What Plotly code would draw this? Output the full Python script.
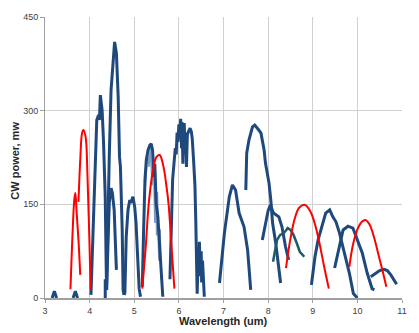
import plotly.graph_objects as go

BLUE = "#1F497D"
RED = "#FF0000"
TEAL = "#1D5B66"
LIGHT = "#7F9CC0"

# --- data (wavelength um, CW power mW) ---
bump1_x = [3.16, 3.21, 3.26]
bump1_y = [0, 11, 0]
bump2_x = [3.63, 3.68, 3.73]
bump2_y = [0, 11, 0]

red1_x = [3.57, 3.60, 3.63, 3.66, 3.68, 3.71, 3.75, 3.79]
red1_y = [14, 72, 125, 160, 168, 136, 93, 37]
red2_x = [3.75, 3.79, 3.83, 3.86, 3.91, 3.95, 3.98, 4.01, 4.02]
red2_y = [154, 221, 264, 269, 258, 200, 130, 50, 13]
red3_x = [5.18, 5.25, 5.33, 5.42, 5.50, 5.57, 5.65, 5.72, 5.77, 5.84, 5.90]
red3_y = [15, 75, 155, 205, 226, 229, 212, 180, 150, 77, 15]
red4_x = [8.40, 8.50, 8.60, 8.70, 8.83, 8.95, 9.05, 9.15, 9.25, 9.36]
red4_y = [48, 95, 128, 145, 149, 138, 118, 88, 52, 15]
red5_x = [9.82, 9.90, 10.00, 10.10, 10.18, 10.27, 10.37, 10.47, 10.56, 10.65]
red5_y = [50, 85, 110, 122, 125, 118, 98, 70, 45, 18]

blueA_x = [4.03, 4.08, 4.13, 4.16, 4.20, 4.22, 4.24, 4.28, 4.31, 4.35, 4.37, 4.38]
blueA_y = [5, 109, 216, 285, 293, 285, 325, 301, 253, 162, 56, 13]
blueA2_x = [4.35, 4.35]
blueA2_y = [0, 30]
blueB_x = [4.38, 4.40, 4.44, 4.48, 4.51, 4.54, 4.56, 4.60, 4.64, 4.67, 4.68, 4.69, 4.73, 4.75, 4.77]
blueB_y = [13, 109, 226, 333, 365, 397, 410, 392, 322, 226, 215, 210, 109, 13, 5]
blueB2_x = [4.38, 4.40, 4.44, 4.48, 4.51, 4.55, 4.59, 4.60]
blueB2_y = [13, 56, 152, 176, 168, 141, 82, 45]
blueC_x = [4.77, 4.79, 4.82, 4.86, 4.90, 4.92, 4.97, 5.01, 5.04, 5.07, 5.11, 5.14]
blueC_y = [5, 8, 98, 141, 157, 152, 162, 146, 120, 66, 15, 2]
blueD_x = [5.18, 5.19, 5.21, 5.24, 5.27, 5.31, 5.35, 5.38, 5.41, 5.44, 5.46, 5.49, 5.53, 5.57, 5.61, 5.64]
blueD_y = [18, 66, 109, 189, 221, 237, 245, 247, 237, 194, 215, 152, 130, 82, 45, 2]
noiseD_x = [5.22, 5.26, 5.30, 5.33, 5.36, 5.40, 5.43, 5.46, 5.48, 5.50, 5.52, 5.55, 5.58, 5.60]
noiseD_y = [150, 200, 230, 210, 240, 180, 230, 120, 200, 100, 170, 60, 110, 30]
blueE_x = [5.80, 5.82, 5.84, 5.86, 5.89, 5.92, 5.94, 5.96, 5.98, 6.00, 6.02, 6.04, 6.06,
           6.07, 6.09, 6.10, 6.12, 6.14, 6.15, 6.17, 6.19, 6.22, 6.25, 6.28, 6.30, 6.33,
           6.36, 6.38, 6.40, 6.41, 6.43, 6.45, 6.46, 6.48, 6.50, 6.51, 6.53, 6.55, 6.57]
blueE_y = [30, 100, 150, 190, 215, 240, 230, 265, 250, 278, 255, 287, 240,
           282, 215, 270, 280, 230, 265, 210, 262, 268, 272, 266, 255, 220,
           180, 120, 60, 7, 60, 35, 90, 40, 75, 25, 60, 20, 2]
blueF_x = [6.91, 7.02, 7.13, 7.20, 7.27, 7.35, 7.46, 7.54, 7.61]
blueF_y = [24, 104, 162, 181, 173, 136, 114, 77, 13]
blueG_x = [7.50, 7.52, 7.57, 7.65, 7.70, 7.74, 7.79, 7.84, 7.91, 7.94, 8.02, 8.06, 8.10, 8.17, 8.22, 8.28]
blueG_y = [173, 232, 253, 274, 277, 274, 269, 264, 237, 216, 184, 157, 120, 88, 61, 24]
blueH_x = [7.87, 7.94, 8.00, 8.05, 8.12, 8.24, 8.31, 8.39, 8.46]
blueH_y = [93, 120, 140, 149, 136, 130, 114, 82, 61]
teal_x = [8.11, 8.20, 8.27, 8.35, 8.40, 8.44, 8.50, 8.57, 8.64, 8.71, 8.81]
teal_y = [58, 93, 101, 104, 108, 112, 109, 101, 88, 74, 66]
blueK_x = [8.97, 9.05, 9.12, 9.20, 9.29, 9.38, 9.45, 9.52, 9.60, 9.71, 9.82, 9.91, 10.00]
blueK_y = [21, 66, 93, 115, 136, 141, 130, 122, 104, 72, 40, 7, 0]
blueL_x = [9.49, 9.56, 9.68, 9.79, 9.90, 10.00, 10.11, 10.22, 10.33, 10.38]
blueL_y = [48, 72, 109, 115, 112, 93, 72, 40, 15, 13]
blueM_x = [10.30, 10.41, 10.50, 10.60, 10.67, 10.75, 10.88]
blueM_y = [34, 40, 44, 46, 44, 37, 22]

x_ticks = [3, 4, 5, 6, 7, 8, 9, 10, 11]
y_ticks = [0, 150, 300, 450]

fig = go.Figure()

def add(x, y, color, width, shape="linear"):
    fig.add_trace(go.Scatter(x=x, y=y, mode="lines", showlegend=False,
                             line=dict(color=color, width=width, shape=shape),
                             hoverinfo="skip"))

add(noiseD_x, noiseD_y, LIGHT, 1.5)
for bx, by in [(bump1_x, bump1_y), (bump2_x, bump2_y), (blueA_x, blueA_y),
               (blueA2_x, blueA2_y), (blueB2_x, blueB2_y), (blueB_x, blueB_y),
               (blueC_x, blueC_y), (blueD_x, blueD_y), (blueE_x, blueE_y),
               (blueF_x, blueF_y), (blueG_x, blueG_y), (blueH_x, blueH_y)]:
    add(bx, by, BLUE, 3)
add(teal_x, teal_y, TEAL, 2.5)
for bx, by in [(blueK_x, blueK_y), (blueL_x, blueL_y), (blueM_x, blueM_y)]:
    add(bx, by, BLUE, 3)
for rx, ry in [(red1_x, red1_y), (red2_x, red2_y), (red3_x, red3_y),
               (red4_x, red4_y), (red5_x, red5_y)]:
    add(rx, ry, RED, 2, "spline")

fig.update_layout(
    width=419, height=333,
    margin=dict(l=45, r=12, t=17, b=35),
    paper_bgcolor="white", plot_bgcolor="white",
    font=dict(family="Liberation Sans, Arial, sans-serif", size=9, color="#404040"),
    xaxis=dict(range=[3, 11], tickvals=x_ticks, ticktext=[str(v) for v in x_ticks],
               showgrid=True, gridcolor="#D0D0D0", gridwidth=1,
               showline=True, linecolor="#A0A0A0", linewidth=1.5,
               ticks="outside", ticklen=3, tickcolor="#A0A0A0",
               zeroline=False, fixedrange=True),
    yaxis=dict(range=[0, 450], tickvals=y_ticks, ticktext=[str(v) for v in y_ticks],
               showgrid=True, gridcolor="#D0D0D0", gridwidth=1,
               showline=True, linecolor="#A0A0A0", linewidth=1,
               ticks="outside", ticklen=4, tickcolor="#A0A0A0",
               zeroline=False, fixedrange=True),
    annotations=[
        dict(text="<b>CW power, mw</b>", textangle=-90, xref="paper", yref="paper",
             x=-0.083, y=0.49, showarrow=False, xanchor="center", yanchor="middle",
             font=dict(size=11, color="#262626")),
        dict(text="<b>Wavelength (um)</b>", xref="paper", yref="paper",
             x=0.5, y=-0.081, showarrow=False, xanchor="center", yanchor="middle",
             font=dict(size=11, color="#262626")),
    ],
)

fig.write_html("out.html")
